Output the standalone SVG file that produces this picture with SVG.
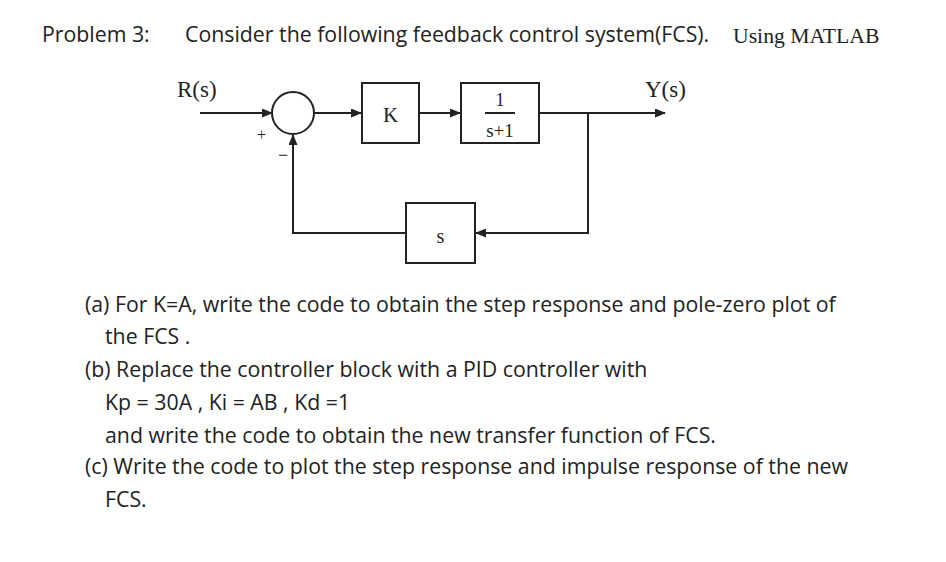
<svg xmlns="http://www.w3.org/2000/svg" width="946" height="562" viewBox="0 0 946 562">
<style>
.t{font-family:"Open Sans","Liberation Sans",sans-serif;font-size:21.3px;fill:#222}
.s{font-family:"Liberation Serif",serif;fill:#222}
.b{fill:#fff;stroke:#222;stroke-width:2}
.l{fill:none;stroke:#222;stroke-width:2}
</style>
<defs><marker id="a" markerWidth="11" markerHeight="9" refX="10" refY="4.5" orient="auto" markerUnits="userSpaceOnUse"><path d="M0,0L11,4.5L0,9z" fill="#222"/></marker></defs>
<rect width="946" height="562" fill="#fff"/>
<text class="t" x="42" y="42">Problem 3:</text>
<text class="t" x="185" y="42">Consider the following feedback control system(FCS).</text>
<text class="s" x="733" y="43" style="font-size:21.7px">Using MATLAB</text>
<text class="s" x="177" y="97" style="font-size:23px">R(s)</text>
<text class="s" x="645" y="97" style="font-size:23px">Y(s)</text>
<text class="s" x="257" y="140" style="font-size:16px">+</text>
<text class="s" x="278" y="161" style="font-size:18px">−</text>
<g id="connectors">
<path class="l" d="M200,113H272" marker-end="url(#a)"/>
<path class="l" d="M314,113H361" marker-end="url(#a)"/>
<path class="l" d="M419,113H460" marker-end="url(#a)"/>
<path class="l" d="M539,113H665" marker-end="url(#a)"/>
<path class="l" d="M588,113V233H476" marker-end="url(#a)"/>
<path class="l" d="M406,233H293V135" marker-end="url(#a)"/>
</g>
<g id="sum"><circle class="b" cx="293" cy="113" r="21"/></g>
<g id="K"><rect class="b" x="362" y="83" width="57" height="60"/><text class="s" x="390.5" y="122" style="font-size:21px" text-anchor="middle">K</text></g>
<g id="plant"><rect class="b" x="461" y="83" width="78" height="60"/><text class="s" x="500" y="106" style="font-size:18px" text-anchor="middle">1</text><path class="l" d="M485,113H515" stroke-width="1.5"/><text class="s" x="500" y="137" style="font-size:19px" text-anchor="middle">s+1</text></g>
<g id="S"><rect class="b" x="406" y="203" width="69" height="60"/><text class="s" x="440.5" y="243" style="font-size:20px" text-anchor="middle">s</text></g>
<text class="t" x="85" y="312">(a) For K=A, write the code to obtain the step response and pole-zero plot of</text>
<text class="t" x="105" y="344">the FCS .</text>
<text class="t" x="85" y="377">(b) Replace the controller block with a PID controller with</text>
<text class="t" x="105" y="410">Kp = 30A , Ki = AB , Kd =1</text>
<text class="t" x="105" y="443">and write the code to obtain the new transfer function of FCS.</text>
<text class="t" x="85" y="474">(c) Write the code to plot the step response and impulse response of the new</text>
<text class="t" x="105" y="507">FCS.</text>
</svg>
